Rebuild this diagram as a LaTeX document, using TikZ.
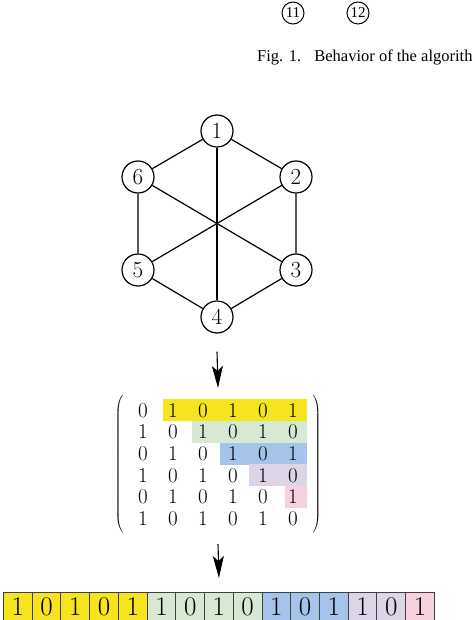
\documentclass[tikz,border=0pt]{standalone}
\usepackage{fontspec}
\newfontfamily\piefont{Liberation Serif}
\usepackage{tikz}
\usetikzlibrary{positioning,arrows.meta,matrix,backgrounds}
\definecolor{bitAmarillo}{HTML}{F6E51E}
\definecolor{bitVerde}{HTML}{D7E9D2}
\definecolor{bitAzul}{HTML}{A6C3E9}
\definecolor{bitMorado}{HTML}{DED4E8}
\definecolor{bitRosa}{HTML}{F7D1E0}

\begin{document}
\begin{tikzpicture}[
        x=1pt, y=-1pt,
        >=Stealth,
        vert/.style={draw, circle, line width=1.2pt, minimum size=32pt, inner sep=0pt, fill=white, font=\fontsize{23}{23}\selectfont},
        marca/.style={draw, circle, line width=1pt, minimum size=22pt, inner sep=0pt, font=\piefont\fontsize{15}{15}\selectfont},
        arista/.style={line width=1.2pt},
        arr/.style={-{Stealth[length=22pt, width=11pt, inset=5pt]}, line width=1.1pt},
        celda/.style={minimum width=30pt, minimum height=21.5pt, inner sep=0pt, font=\fontsize{21}{21}\selectfont},
        bit/.style={draw=black!75, line width=0.9pt, minimum width=28.73pt, minimum height=29pt, inner sep=0pt, anchor=north west, font=\fontsize{27}{27}\selectfont}
    ]
        \useasboundingbox (0,0) rectangle (474,620);

        % Restos de la figura anterior (arriba a la derecha)
        \node[marca] (m11) at (293,13) {11};
        \node[marca] (m12) at (358,13) {12};
        \node[font=\piefont\fontsize{16.5}{16.5}\selectfont, anchor=base west, inner sep=0pt] (pie) at (257,62) {Fig. 1.\hspace{0.8em}Behavior of the algorith};

        % Grafo hexagonal
        \node[vert] (v1) at (217,131) {1};
        \node[vert] (v2) at (296,177) {2};
        \node[vert] (v3) at (296,270) {3};
        \node[vert] (v4) at (217,317) {4};
        \node[vert] (v5) at (138,270) {5};
        \node[vert] (v6) at (138,177) {6};

        \draw[arista] (v1) -- (v2) -- (v3) -- (v4) -- (v5) -- (v6) -- (v1);
        \draw[arista] (v1) -- (v4);
        \draw[arista] (v2) -- (v5);
        \draw[arista] (v6) -- (v3);

        % Matriz de adyacencia
        \matrix (adj) [matrix of nodes, nodes={celda}, column sep=0pt, row sep=0pt,
            every left delimiter/.style={font=\fontsize{27}{27}\selectfont, xshift=4pt},
            every right delimiter/.style={font=\fontsize{27}{27}\selectfont, xshift=-4pt},
            left delimiter=(, right delimiter=)] at (218,464.5) {
            0 & 1 & 0 & 1 & 0 & 1 \\
            1 & 0 & 1 & 0 & 1 & 0 \\
            0 & 1 & 0 & 1 & 0 & 1 \\
            1 & 0 & 1 & 0 & 1 & 0 \\
            0 & 1 & 0 & 1 & 0 & 1 \\
            1 & 0 & 1 & 0 & 1 & 0 \\
        };

        % Triangulo superior resaltado por filas
        \begin{scope}[on background layer]
            \fill[bitAmarillo] ([xshift=5pt]adj-1-2.north west) rectangle ([xshift=-1pt]adj-1-6.south east);
            \fill[bitVerde] ([xshift=4pt]adj-2-3.north west) rectangle ([xshift=-1pt]adj-2-6.south east);
            \fill[bitAzul] ([xshift=2pt]adj-3-4.north west) rectangle ([xshift=-1pt]adj-3-6.south east);
            \fill[bitMorado] ([xshift=1pt]adj-4-5.north west) rectangle ([xshift=-1pt]adj-4-6.south east);
            \fill[bitRosa] ([xshift=7pt]adj-5-6.north west) rectangle ([xshift=-1pt]adj-5-6.south east);
        \end{scope}

        % Vector de bits
        \foreach \v/\c [count=\i] in {1/bitAmarillo, 0/bitAmarillo, 1/bitAmarillo, 0/bitAmarillo, 1/bitAmarillo,
                1/bitVerde, 0/bitVerde, 1/bitVerde, 0/bitVerde,
                1/bitAzul, 0/bitAzul, 1/bitAzul,
                1/bitMorado, 0/bitMorado,
                1/bitRosa}
            \node[bit, fill=\c] (b\i) at ({3+(\i-1)*28.73},592) {\v};

        % Flechas entre etapas
        \draw[arr] (v4.south) ++(0,18) -- ([yshift=8pt]adj.north);
        \draw[arr] (adj.south) ++(0,11) -- ([yshift=14pt]b8.north);
    \end{tikzpicture}
\end{document}
